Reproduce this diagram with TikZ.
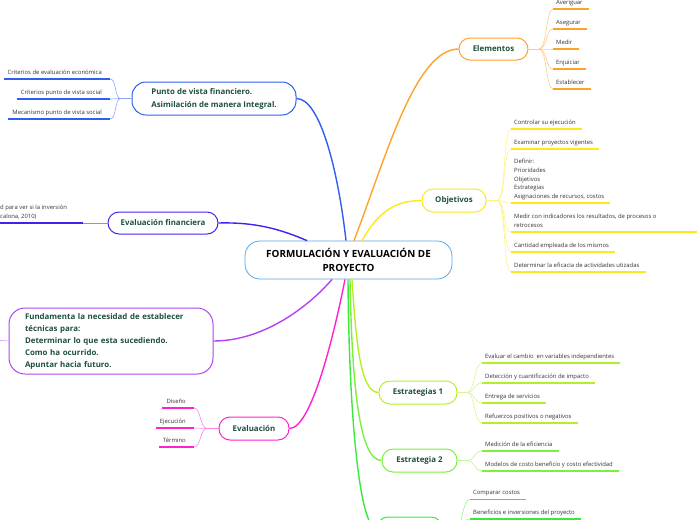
\documentclass[tikz,border=0pt]{standalone}
\usepackage{fontspec}
\setmainfont{Open Sans}
\usetikzlibrary{calc}
\definecolor{cCen}{HTML}{5AA5E6}
\definecolor{cBl}{HTML}{2F5FF0}
\definecolor{cVi}{HTML}{4422EE}
\definecolor{cPu}{HTML}{B044F0}
\definecolor{cMa}{HTML}{FF22CC}
\definecolor{cOr}{HTML}{FFA229}
\definecolor{cYe}{HTML}{FFE81A}
\definecolor{cYg}{HTML}{B4F02A}
\definecolor{cGa}{HTML}{7CF03C}
\definecolor{cGb}{HTML}{3CE83C}
\definecolor{cDg}{HTML}{1F4E3D}
\definecolor{cTx}{HTML}{333333}
\begin{document}
\begin{tikzpicture}[x=1pt,y=-1pt,
 central/.style={draw=cCen, line width=0.8pt, rounded corners=15pt, minimum width=207pt, minimum height=38pt, inner sep=0pt, align=center, font=\bfseries\fontsize{9.9}{14}\selectfont, text=black},
 branch/.style={draw=#1, line width=1pt, rounded corners=11pt, minimum height=22pt, inner sep=0pt, align=center, font=\bfseries\fontsize{7.9}{12}\selectfont, text=cDg},
 lbl/.style={font=\fontsize{5.9}{8.6}\selectfont, text=cTx, inner xsep=3pt, inner ysep=4.5pt, text depth=0pt, align=left},
 lblL/.style={lbl, align=right, inner xsep=4pt},
 mainc/.style={draw=#1, line width=1.4pt},
 subc/.style={draw=#1!55, line width=0.6pt},
 ul/.style={draw=#1, line width=1.3pt},
]
\useasboundingbox (0,0) rectangle (697,520);
\clip (0,0) rectangle (697,520);

% central
\node[central] (c) at (348.5,260) {FORMULACIÓN Y EVALUACIÓN DE\\PROYECTO};

% branches
\node[branch=cOr, minimum width=69pt] (el) at (493.5,49) {Elementos};
\node[branch=cYe, minimum width=64pt, minimum height=23pt] (ob) at (454,200.5) {Objetivos};
\node[branch=cBl, minimum width=164pt, minimum height=33pt, rounded corners=14pt, align=left, font=\bfseries\fontsize{7.9}{13}\selectfont] (pu) at (214,98.5) {Punto de vista financiero.\\Asimilación de manera Integral.};
\node[branch=cVi, minimum width=110pt] (ef) at (163,223) {Evaluación financiera};
\node[branch=cPu, text width=172pt, inner xsep=16pt, minimum height=66pt, rounded corners=16pt, align=left] (fu) at (111,341) {Fundamenta la necesidad de establecer\\técnicas para:\\Determinar lo que esta sucediendo.\\Como ha ocurrido.\\Apuntar hacia futuro.};
\node[branch=cMa, minimum width=70pt, minimum height=23pt] (ev) at (254,428.5) {Evaluación};
\node[branch=cYg, minimum width=78pt, minimum height=23pt] (e1) at (418,392.5) {Estrategias 1};
\node[branch=cGa, minimum width=75pt, minimum height=23pt] (e2) at (419.5,460.5) {Estrategia 2};
\node[branch=cGb, minimum width=65pt, minimum height=23pt] (e3) at (409.5,528.5) {};

% main connectors
\draw[mainc=cBl] (pu.east) .. controls (320,98.5) and (338,170) .. ([xshift=-2.5pt]c.north);
\draw[mainc=cOr] ([xshift=5.5pt]c.north) .. controls (385,160) and (415,49) .. (el.west);
\draw[mainc=cYe] ([xshift=13.5pt]c.north) .. controls (378,212) and (395,200.5) .. (ob.west);
\draw[mainc=cVi] (ef.east) .. controls (255,222) and (280,229) .. ([xshift=-41.5pt]c.north);
\draw[mainc=cPu] (fu.east) .. controls (265,341) and (310,305) .. ([xshift=-16.5pt]c.south);
\draw[mainc=cMa] (ev.east) .. controls (312,428.5) and (335,330) .. ([xshift=-3.5pt]c.south);
\draw[mainc=cYg] ([xshift=3.5pt]c.south) .. controls (356,340) and (360,392.5) .. (e1.west);
\draw[mainc=cGa] ([xshift=1.5pt]c.south) .. controls (352,390) and (360,460.5) .. (e2.west);
\draw[mainc=cGb] ([xshift=-0.5pt]c.south) .. controls (349,420) and (360,528.5) .. (e3.west);

% Elementos children
\node[lbl, anchor=south west] (el1) at (553,9) {Averiguar};
\node[lbl, anchor=south west] (el2) at (553,29) {Asegurar};
\node[lbl, anchor=south west] (el3) at (553,49) {Medir};
\node[lbl, anchor=south west] (el4) at (553,69) {Enjuiciar};
\node[lbl, anchor=south west] (el5) at (553,89) {Establecer};
\coordinate (elj) at (539,49);
\draw[subc=cOr] (el.east) -- (elj);
\foreach \n in {el1,el2,el3,el4,el5}{
  \draw[subc=cOr] (elj) .. controls +(8,0) and +(-7,0) .. (\n.south west);
  \draw[ul=cOr] (\n.south west) -- ([xshift=3pt]\n.south east);
}

% Objetivos children
\node[lbl, anchor=south west] (ob1) at (511,129) {Controlar su ejecución};
\node[lbl, anchor=south west] (ob2) at (511,149) {Examinar proyectos vigentes};
\node[lbl, anchor=south west] (ob3) at (511,203) {Definir:\\Prioridades\\Objetivos\\Estrategias\\Asignaciones de recursos, costos};
\node[lbl, anchor=south west] (ob4) at (511,232) {Medir con indicadores los resultados, de procesos o\\retrocesos};
\node[lbl, anchor=south west] (ob5) at (511,252) {Cantidad empleada de los mismos};
\node[lbl, anchor=south west] (ob6) at (511,272) {Determinar la eficacia de actividades utizadas};
\coordinate (obj) at (497,200.5);
\coordinate (ob4e) at (700,232);
\draw[subc=cYe] (ob.east) -- (obj);
\foreach \n in {ob1,ob2,ob3,ob4,ob5,ob6}{
  \draw[subc=cYe] (obj) .. controls +(9,0) and +(-8,0) .. (\n.south west);
}
\foreach \n in {ob1,ob2,ob3,ob5,ob6}{
  \draw[ul=cYe] (\n.south west) -- ([xshift=3pt]\n.south east);
}
\draw[ul=cYe] (ob4.south west) -- (ob4e);

% Punto children
\node[lblL, anchor=south east] (pu1) at (106,79) {Criterios de evaluación económica};
\node[lblL, anchor=south east] (pu2) at (106,99) {Criterios punto de vista social};
\node[lblL, anchor=south east] (pu3) at (106,119) {Mecanismo punto de vista social};
\coordinate (puj) at (121,98.5);
\draw[subc=cBl] (pu.west) -- (puj);
\foreach \n in {pu1,pu2,pu3}{
  \draw[subc=cBl] (puj) .. controls +(-7,0) and +(7,0) .. ([xshift=4pt]\n.south east);
  \draw[ul=cBl] (\n.south west) -- ([xshift=4pt]\n.south east);
}

% Evaluacion financiera child
\node[lbl, anchor=south west] (ef1) at (-3,223) {d para ver si la inversión\\calona, 2010)};
\coordinate (efj) at (83,223);
\draw[subc=cVi] (ef.west) -- (efj);
\draw[ul=cVi] (ef1.south west) -- (efj);

% Fundamenta stub
\coordinate (fus) at (-5,340);
\draw[subc=cPu] (fu.west) -- (fus);

% Evaluacion children
\node[lblL, anchor=south east] (ev1) at (190,408) {Diseño};
\node[lblL, anchor=south east] (ev2) at (190,428) {Ejecución};
\node[lblL, anchor=south east] (ev3) at (190,447) {Término};
\coordinate (evj) at (207,428.5);
\draw[subc=cMa] (ev.west) -- (evj);
\foreach \n in {ev1,ev2,ev3}{
  \draw[subc=cMa] (evj) .. controls +(-7,0) and +(7,0) .. ([xshift=4pt]\n.south east);
  \draw[ul=cMa] (\n.south west) -- ([xshift=4pt]\n.south east);
}

% Estrategias 1 children
\node[lbl, anchor=south west] (s11) at (482,363) {Evaluar el cambio~ en variables independientes};
\node[lbl, anchor=south west] (s12) at (482,383) {Detección y cuantificación de impacto};
\node[lbl, anchor=south west] (s13) at (482,403) {Entrega de servicios};
\node[lbl, anchor=south west] (s14) at (482,423) {Refuerzos positivos o negativos};
\coordinate (s1j) at (467,392.5);
\draw[subc=cYg] (e1.east) -- (s1j);
\foreach \n in {s11,s12,s13,s14}{
  \draw[subc=cYg] (s1j) .. controls +(8,0) and +(-8,0) .. (\n.south west);
  \draw[ul=cYg] (\n.south west) -- ([xshift=3pt]\n.south east);
}

% Estrategia 2 children
\node[lbl, anchor=south west] (s21) at (482,451) {Medición de la eficiencia};
\node[lbl, anchor=south west] (s22) at (482,471) {Modelos de costo beneficio y costo efectividad};
\coordinate (s2j) at (467,460.5);
\draw[subc=cGa] (e2.east) -- (s2j);
\foreach \n in {s21,s22}{
  \draw[subc=cGa] (s2j) .. controls +(8,0) and +(-8,0) .. (\n.south west);
  \draw[ul=cGa] (\n.south west) -- ([xshift=3pt]\n.south east);
}

% third strategy children
\node[lbl, anchor=south west] (s31) at (470,499.5) {Comparar costos};
\node[lbl, anchor=south west] (s32) at (470,519) {Beneficios e inversiones del proyecto};
\coordinate (s3j) at (455,528.5);
\draw[subc=cGb] (e3.east) -- (s3j);
\foreach \n in {s31,s32}{
  \draw[subc=cGb] (s3j) .. controls +(8,0) and +(-8,0) .. (\n.south west);
  \draw[ul=cGb] (\n.south west) -- ([xshift=3pt]\n.south east);
}
\end{tikzpicture}
\end{document}
